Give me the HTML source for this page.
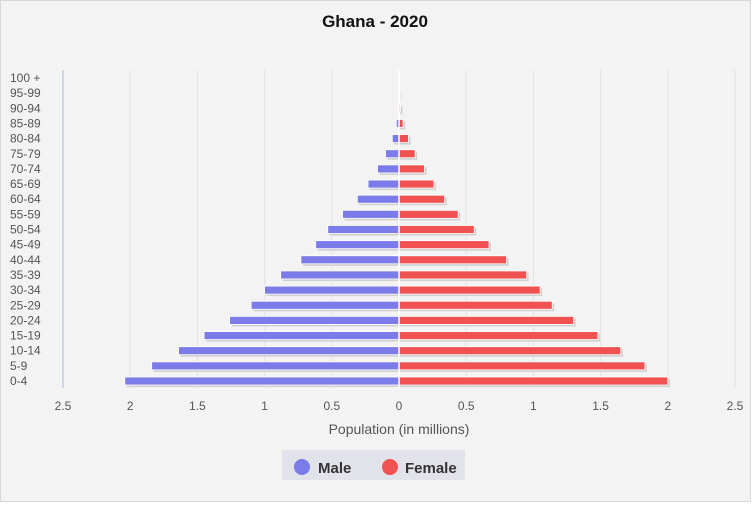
<!DOCTYPE html>
<html><head><meta charset="utf-8"><style>
body{margin:0;background:#fff;}
#wrap{position:relative;width:755px;height:506px;}
svg{display:block;font-family:"Liberation Sans",sans-serif;}
</style></head><body>
<div id="wrap">
<svg id="c" width="755" height="506"></svg>
</div>
<script>
const categories=["100 +","95-99","90-94","85-89","80-84","75-79","70-74","65-69","60-64","55-59","50-54","45-49","40-44","35-39","30-34","25-29","20-24","15-19","10-14","5-9","0-4"];
const maleValues=[0,0.001,0.005,0.02,0.05,0.10,0.16,0.23,0.31,0.42,0.53,0.62,0.73,0.88,1.00,1.10,1.26,1.45,1.64,1.84,2.04];
const femaleValues=[0,0.002,0.01,0.03,0.07,0.12,0.19,0.26,0.34,0.44,0.56,0.67,0.80,0.95,1.05,1.14,1.30,1.48,1.65,1.83,2.0];
const xTicks=[-2.5,-2,-1.5,-1,-0.5,0,0.5,1,1.5,2,2.5];
const xTickLabels=["2.5","2","1.5","1","0.5","0","0.5","1","1.5","2","2.5"];

const NS="http://www.w3.org/2000/svg";
const svg=document.getElementById('c');
function mk(t,a,p){const e=document.createElementNS(NS,t);for(const k in a)e.setAttribute(k,a[k]);(p||svg).appendChild(e);return e;}
const x0=399,scale=134.4;
function xs(v){return x0+v*scale;}
const yTop=78,yStep=(381-78)/20;
function ys(i){return yTop+i*yStep;}

let bg=mk('rect',{x:0.5,y:0.5,width:750,height:501,fill:'#f3f3f3',stroke:'#d8d8d8'});



let t=mk('text',{x:375,y:27,'text-anchor':'middle','font-size':17,'font-weight':'bold',fill:'#111'});
t.textContent='Ghana - 2020';



xTicks.forEach((v,i)=>{
  let g=mk('line',{x1:xs(v),x2:xs(v),y1:70,y2:388,stroke:v===-2.5?'#cdd6e6':'#e2e2e2','stroke-width':v===-2.5?2:1});
  
  
  let l=mk('text',{x:xs(v),y:410,'text-anchor':'middle','font-size':12,fill:'#555'});
  l.textContent=xTickLabels[i];
  
  
});

categories.forEach((c,i)=>{
  let l=mk('text',{x:10,y:ys(i)+4,'font-size':12,fill:'#555'});
  l.textContent=c;
  
  
  const y=ys(i)-4;
  const mw=maleValues[i]*scale, fw=femaleValues[i]*scale;
  if(mw>0){
    mk('rect',{x:xs(-maleValues[i])+2,y:y+2,width:mw,height:8,fill:'#cfcfcf'});
    let b=mk('rect',{x:xs(-maleValues[i]),y:y,width:mw,height:8,fill:'#7b7bea',stroke:'#fff','stroke-width':0.8});
    
    
  }
  if(fw>0){
    mk('rect',{x:x0+2,y:y+2,width:fw,height:8,fill:'#cfcfcf'});
    let b=mk('rect',{x:x0,y:y,width:fw,height:8,fill:'#f05252',stroke:'#fff','stroke-width':0.8});
    
    
  }
});
let z=mk('line',{x1:x0,x2:x0,y1:70,y2:388,stroke:'#fff','stroke-width':1.5});



let xt=mk('text',{x:399,y:434,'text-anchor':'middle','font-size':14,fill:'#555'});
xt.textContent='Population (in millions)';



let lg=mk('g',{});


mk('rect',{x:282,y:450,width:183,height:30,fill:'#e2e2ea'},lg);
let c1=mk('circle',{cx:302,cy:467,r:8,fill:'#7b7bea'},lg);


let t1=mk('text',{x:318,y:473,'font-size':15,'font-weight':'bold',fill:'#333'},lg);
t1.textContent='Male';


let c2=mk('circle',{cx:390,cy:467,r:8,fill:'#f05252'},lg);


let t2=mk('text',{x:405,y:473,'font-size':15,'font-weight':'bold',fill:'#333'},lg);
t2.textContent='Female';


</script>
</body></html>
